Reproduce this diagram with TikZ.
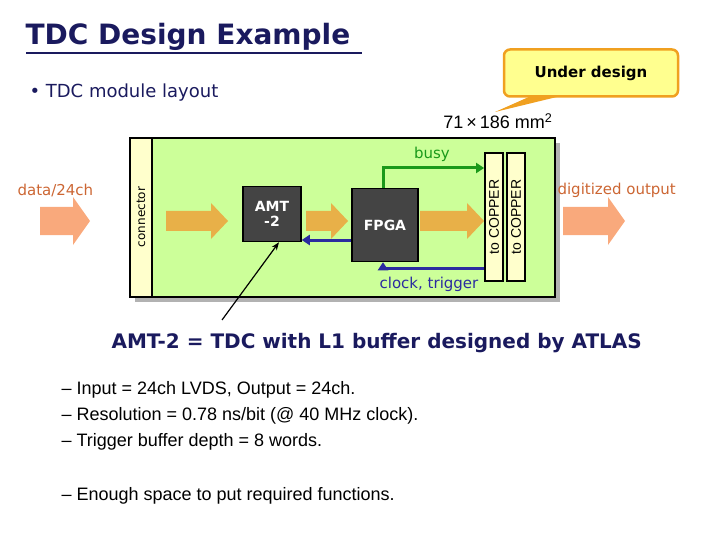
\documentclass[tikz,border=0pt]{standalone}
\usepackage{fontspec}
\setmainfont{DejaVu Sans}
\newfontfamily\arial{Liberation Sans}
\usetikzlibrary{arrows.meta}
\definecolor{navy}{HTML}{1A1A5E}
\definecolor{boardgreen}{HTML}{CCFF99}
\definecolor{cream}{HTML}{FFFFCC}
\definecolor{salmon}{HTML}{F9A97C}
\definecolor{gold}{HTML}{E8B048}
\definecolor{orangetxt}{HTML}{CC6633}
\definecolor{chip}{HTML}{444444}
\definecolor{bluearr}{HTML}{2B2BA0}
\definecolor{greenarr}{HTML}{1A991A}
\definecolor{callorange}{HTML}{F0A020}
% #1 start x, #2 centre y, #3 length, #4 half shaft, #5 half head, #6 head length, #7 colour
\newcommand\myfatarrow[7]{\fill[#7] (#1,#2-#4) -- (#1+#3-#6,#2-#4) -- (#1+#3-#6,#2-#5) -- (#1+#3,#2) -- (#1+#3-#6,#2+#5) -- (#1+#3-#6,#2+#4) -- (#1,#2+#4) -- cycle;}
\begin{document}
\begin{tikzpicture}[x=1pt,y=-1pt,
  chipbox/.style={draw=black, line width=1.5pt, fill=chip, text=white, font=\fontsize{14}{15}\selectfont\bfseries, align=center, inner sep=0},
  copper/.style={draw=black, line width=1.8pt, fill=cream, minimum width=18, minimum height=128, inner sep=0},
  lbl/.style={font=\fontsize{15}{17}\selectfont},
  sig/.style={line width=3pt, -{Triangle[length=8pt,width=10pt]}},
  bul/.style={anchor=west, font=\arial\fontsize{18}{20}\selectfont}]
\useasboundingbox (0,0) rectangle (720,540);
% title
\node[anchor=west, text=navy, font=\fontsize{28}{30}\selectfont\bfseries] (title) at (22,37) {TDC Design Example};
\draw[navy, line width=1.5pt] (26,53) -- (362,53);
% callout
\fill[callorange] (540,92) -- (495,112) -- (565,95) -- cycle;
\node[draw=callorange, line width=2.5pt, fill=cream!70!yellow, rounded corners=6pt, minimum width=174, minimum height=47, font=\fontsize{15}{17}\selectfont\bfseries] (call) at (591,73) {Under design};
\node[anchor=west, font=\fontsize{18}{20}\selectfont, text=navy] (sub) at (26,93) {•\ TDC module layout};
\node[anchor=east, font=\arial\fontsize{18}{20}\selectfont] (dim) at (556,121) {71\,×\,186 mm\textsuperscript{2}};
% board
\fill[gray!60] (135,143) rectangle (560,302);
\draw[line width=2.5pt, fill=boardgreen] (130,138) rectangle (555,297);
\draw[line width=2.5pt, fill=cream] (130,138) rectangle (152,297);
\node[rotate=90, font=\fontsize{12}{13}\selectfont] (conn) at (141,217) {connector};
% outside arrows and text
\node[anchor=west, text=orangetxt, lbl] (din) at (14,190) {data/24ch};
\myfatarrow{40}{221}{50}{14}{24}{17}{salmon}
\node[anchor=west, text=orangetxt, lbl] (dout) at (554,190) {digitized output};
\myfatarrow{563}{221}{62}{14}{24}{17}{salmon}
% inner arrows
\myfatarrow{166}{221}{62}{10}{18}{17}{gold}
\myfatarrow{306}{221}{42}{10}{18}{17}{gold}
\myfatarrow{420}{221}{64}{10}{18}{17}{gold}
% chips
\node[chipbox, minimum width=58, minimum height=55] (amt) at (272,214) {AMT\\-2};
\node[chipbox, minimum width=66, minimum height=73] (fpga) at (385,225) {FPGA};
\node[copper] (c1) at (494,217) {};
\node[copper] (c2) at (516,217) {};
\node[rotate=90, font=\arial\fontsize{14}{15}\selectfont] at (c1) {to COPPER};
\node[rotate=90, font=\arial\fontsize{14}{15}\selectfont] at (c2) {to COPPER};
% busy
\draw[greenarr, sig] (fpga.north -| 383,0) |- (c1.west |- 0,168);
\node[text=greenarr, lbl] (busy) at (432,154) {busy};
% blue to AMT
\draw[bluearr, sig] (fpga.west |- 0,240) -- (amt.east |- 0,240);
% clock, trigger
\draw[bluearr, sig] (c1.west |- 0,268) -| (fpga.south -| 383,0);
\node[text=bluearr, lbl] (clk) at (429,284) {clock, trigger};
% pointer
\coordinate (pt) at (222,320);
\draw[line width=1.2pt, -{Stealth[length=8pt]}] (pt) -- (amt.south -| 279,0);
% text
\node[anchor=west, text=navy, font=\fontsize{20}{22}\selectfont\bfseries] (amtdef) at (108,343) {AMT-2 = TDC with L1 buffer designed by ATLAS};
\node[bul] (b1) at (58,390) {– Input = 24ch LVDS, Output = 24ch.};
\node[bul] (b2) at (58,416) {– Resolution = 0.78 ns/bit (@ 40 MHz clock).};
\node[bul] (b3) at (58,442) {– Trigger buffer depth = 8 words.};
\node[bul] (b4) at (58,496) {– Enough space to put required functions.};
\end{tikzpicture}
\end{document}
